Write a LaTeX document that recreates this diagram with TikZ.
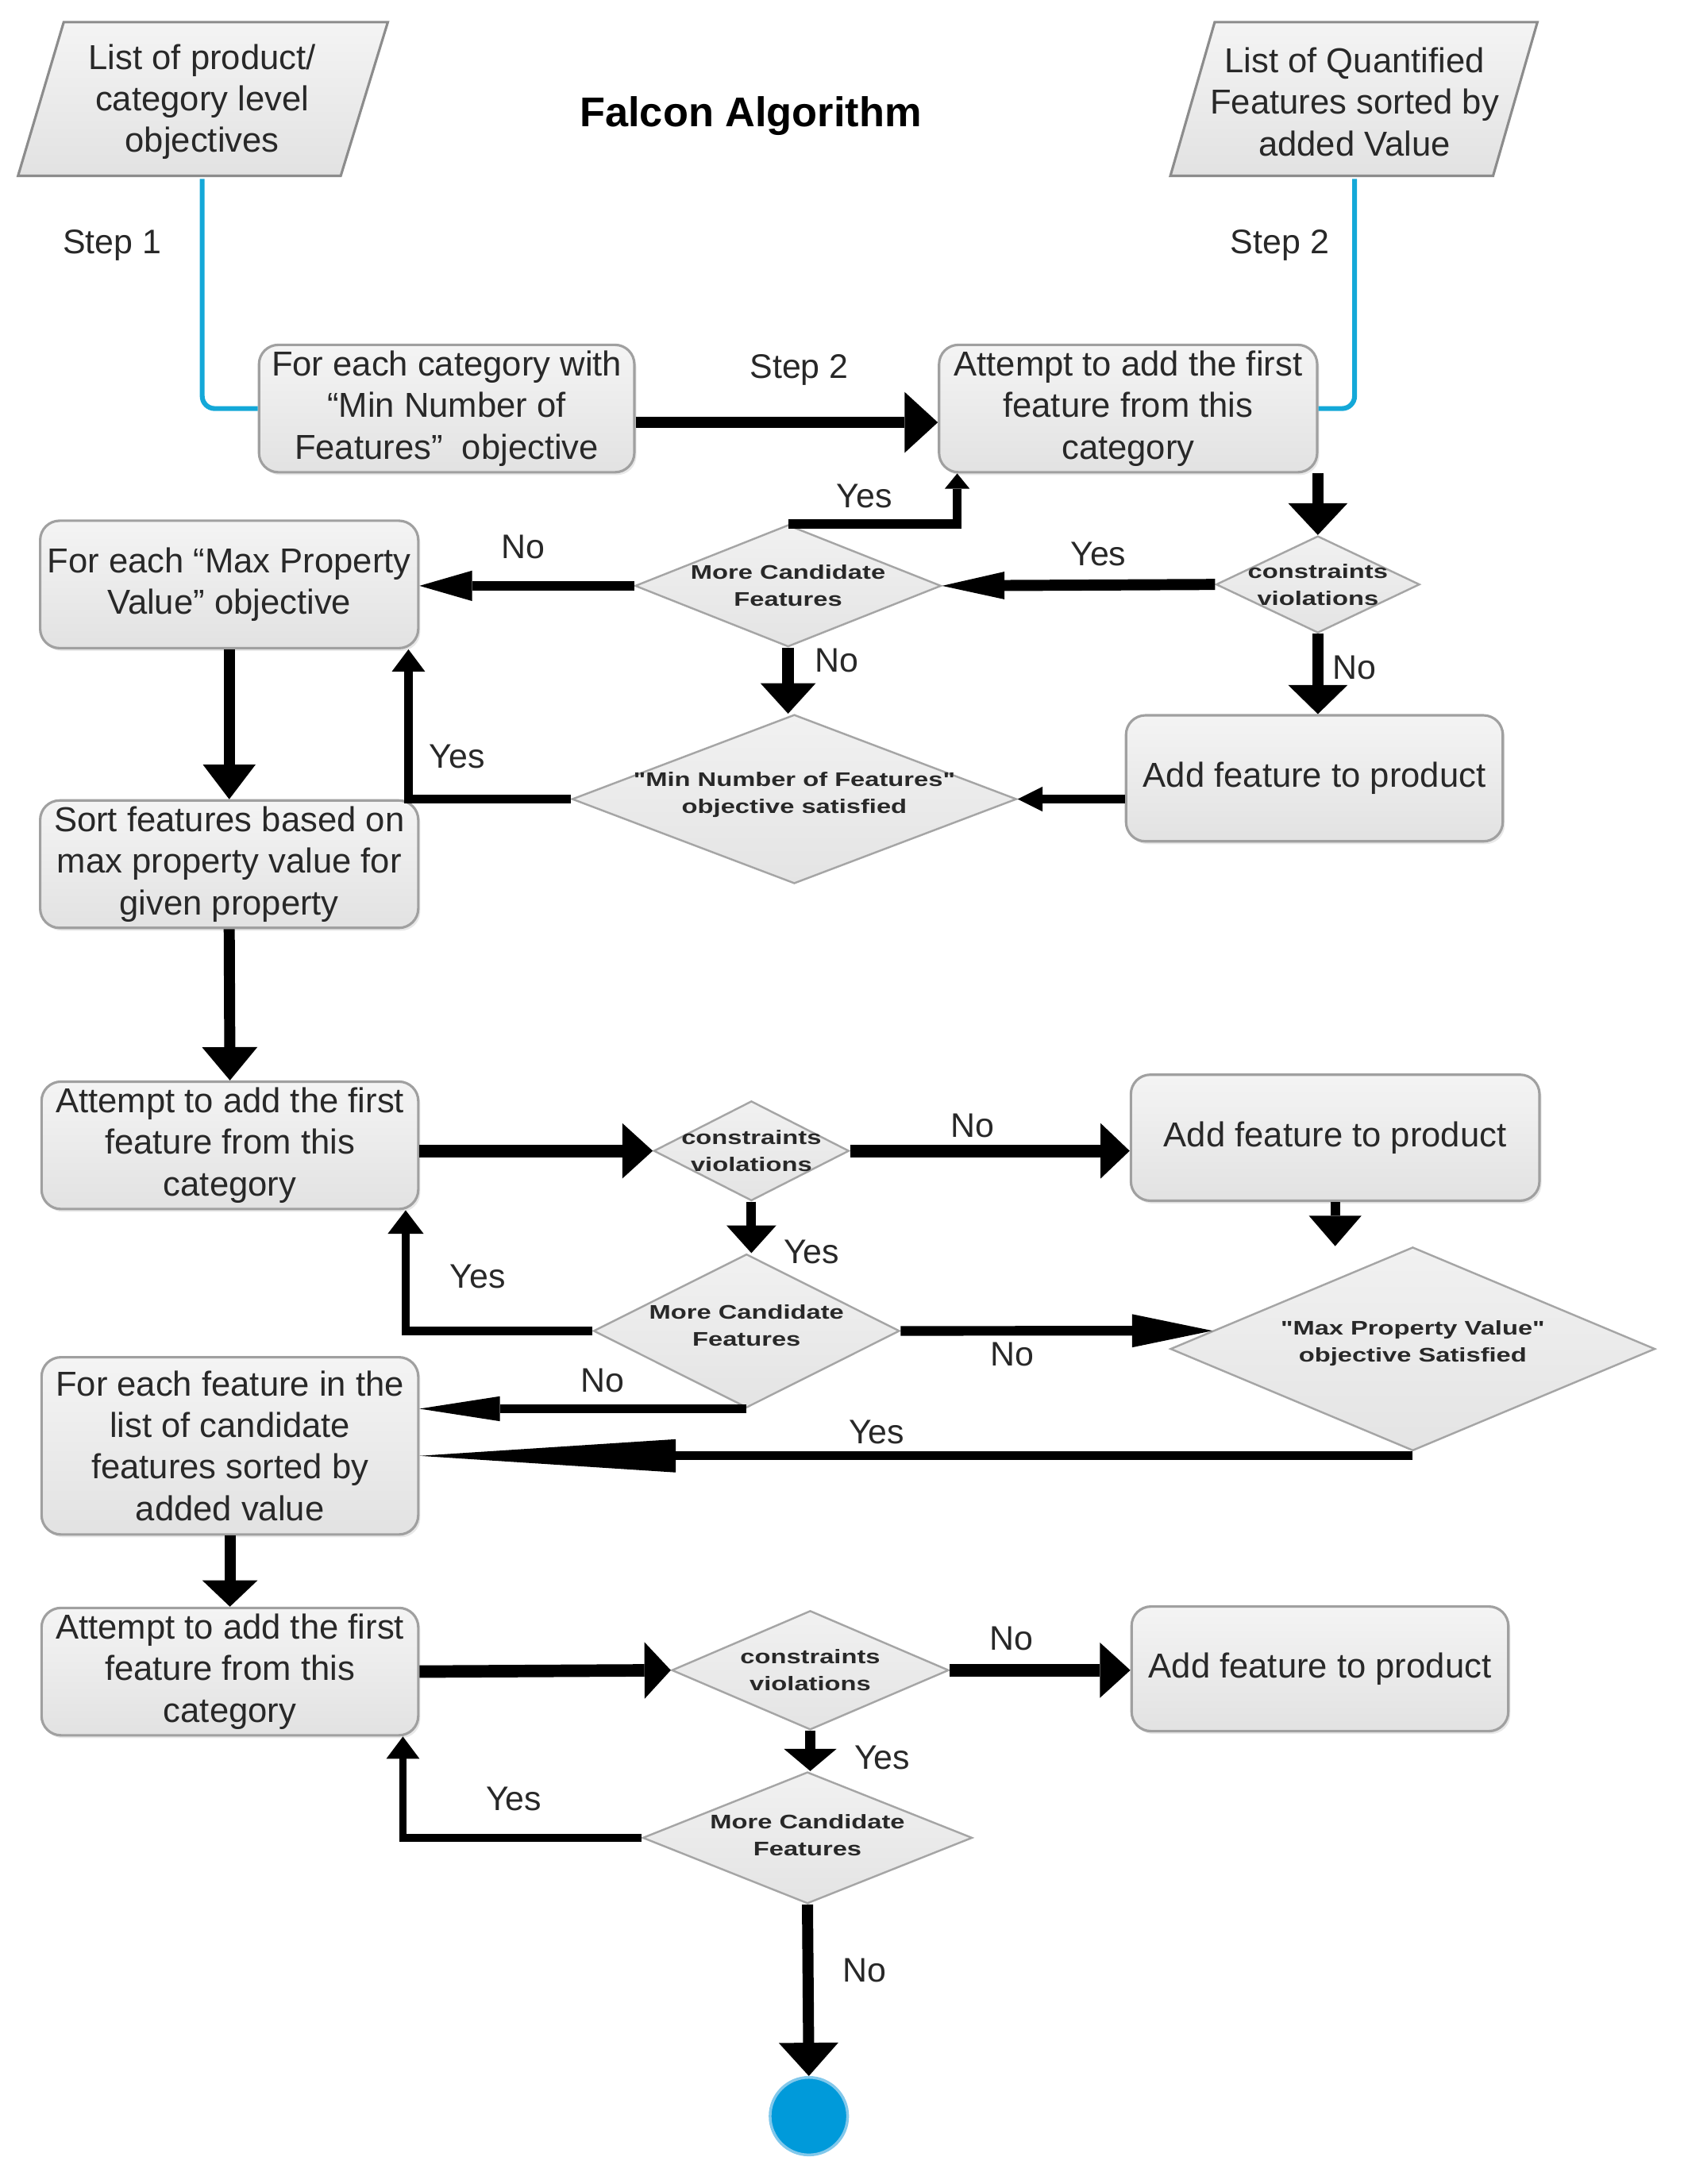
\documentclass[tikz,border=0pt]{standalone}
\usepackage{fontspec}
\setmainfont{Liberation Sans}
\newfontfamily\diafam[FakeStretch=1.32]{Liberation Sans}
\usetikzlibrary{arrows.meta,shapes.geometric,shadows,calc}
\definecolor{txt}{RGB}{40,40,40}
\definecolor{boxtop}{RGB}{244,244,244}
\definecolor{boxbot}{RGB}{226,226,226}
\definecolor{boxline}{RGB}{160,160,160}
\definecolor{diatop}{RGB}{241,241,241}
\definecolor{diabot}{RGB}{228,228,228}
\definecolor{dialine}{RGB}{165,165,165}
\definecolor{paraline}{RGB}{140,140,140}
\definecolor{cyanc}{RGB}{20,168,216}
\definecolor{endblue}{RGB}{0,154,218}
\definecolor{endedge}{RGB}{130,200,235}
\begin{document}
\begin{tikzpicture}[x=1pt,y=-1pt,
  box/.style={rectangle, rounded corners=14pt, draw=boxline, line width=1.8pt, top color=boxtop, bottom color=boxbot, align=center, text=txt, font=\fontsize{25}{30}\selectfont, inner sep=0pt, drop shadow={shadow xshift=1.5pt, shadow yshift=-2pt, opacity=0.18}},
  dia/.style={diamond, draw=dialine, line width=1.4pt, top color=diatop, bottom color=diabot, inner sep=0pt},
  diatext/.style={align=center, text=txt, font=\diafam\bfseries\fontsize{14.2}{19.5}\selectfont, inner sep=0pt},
  lbl/.style={text=txt, font=\fontsize{24.6}{29}\selectfont, inner sep=0pt},
  para/.style={draw=paraline, line width=1.8pt, top color=boxtop, bottom color=boxbot},
  ptext/.style={align=center, text=txt, font=\fontsize{25}{30}\selectfont, inner sep=0pt},
  cy/.style={draw=cyanc, line width=3.5pt, rounded corners=9pt},
  arr/.style n args={3}{draw=black, line width=#1pt, -{Triangle[length=#2pt, width=#3pt, line width=0pt]}},
]
\useasboundingbox (0,0) rectangle (1215.3,1577);
\fill[white] (0,0) rectangle (1215.3,1577);

% input parallelograms
\draw[para] (46,16) -- (280,16) -- (246,127) -- (13,127) -- cycle;
\draw[para] (877,16) -- (1110,16) -- (1078,127) -- (845,127) -- cycle;
\node[ptext, minimum height=111pt] (p1) at (146,73.5) {List of product/\\category level\\objectives};
\node[ptext, minimum height=111pt] (p2) at (978,73.5) {List of Quantified\\Features sorted by\\added Value};

\node[font=\bfseries\fontsize{30}{35}\selectfont, inner sep=0pt] (title) at (542,84) {Falcon Algorithm};
\node[lbl] (s1) at (81,177) {Step 1};
\node[lbl] (s2a) at (577,267) {Step 2};
\node[lbl] (s2b) at (924,177) {Step 2};

% boxes
\node[box, minimum width=271pt, minimum height=92pt] (b1) at (322.5,295) {For each category with\\“Min Number of\\Features”~ objective};
\node[box, minimum width=273pt, minimum height=92pt] (b2) at (814.5,295) {Attempt to add the first\\feature from this\\category};
\node[box, minimum width=273pt, minimum height=92pt] (b3) at (165.5,422) {For each “Max Property\\Value” objective};
\node[box, minimum width=272pt, minimum height=91pt] (b4) at (949,562) {Add feature to product};
\node[box, minimum width=273pt, minimum height=92pt] (b5) at (165.5,624) {Sort features based on\\max property value for\\given property};
\node[box, minimum width=272pt, minimum height=92pt] (b6) at (166,827) {Attempt to add the first\\feature from this\\category};
\node[box, minimum width=295pt, minimum height=91pt] (b7) at (964,821.5) {Add feature to product};
\node[box, minimum width=272pt, minimum height=128pt] (b8) at (166,1044) {For each feature in the\\list of candidate\\features sorted by\\added value};
\node[box, minimum width=272pt, minimum height=92pt] (b9) at (166,1207) {Attempt to add the first\\feature from this\\category};
\node[box, minimum width=272pt, minimum height=90pt] (b10) at (953,1205) {Add feature to product};

% diamonds
\node[dia, minimum width=147pt, minimum height=70pt] (d1) at (951.5,422) {};
\node[diatext] (t1) at (d1) {constraints\\violations};
\node[dia, minimum width=221pt, minimum height=88pt] (d2) at (569,423) {};
\node[diatext] (t2) at (d2) {More Candidate\\Features};
\node[dia, minimum width=321pt, minimum height=122pt] (d3) at (573.5,577) {};
\node[diatext] (t3) at ([yshift=3pt]d3.center) {"Min Number of Features"\\objective satisfied};
\node[dia, minimum width=141pt, minimum height=72pt] (d4) at (542.5,831) {};
\node[diatext] (t4) at (d4) {constraints\\violations};
\node[dia, minimum width=221pt, minimum height=111pt] (d5) at (539,961) {};
\node[diatext] (t5) at ([yshift=4pt]d5.center) {More Candidate\\Features};
\node[dia, minimum width=350pt, minimum height=147pt] (d6) at (1020,974) {};
\node[diatext] (t6) at ([yshift=4pt]d6.center) {"Max Property Value"\\objective Satisfied};
\node[dia, minimum width=200pt, minimum height=86pt] (d7) at (585,1206) {};
\node[diatext] (t7) at (d7) {constraints\\violations};
\node[dia, minimum width=238pt, minimum height=95pt] (d8) at (583,1327) {};
\node[diatext] (t8) at ([yshift=2pt]d8.center) {More Candidate\\Features};

\node[circle, fill=endblue, draw=endedge, line width=2pt, minimum size=56pt, inner sep=0pt] (end) at (584,1528) {};

% cyan connectors
\draw[cy] (p1.south) |- (b1.west);
\draw[cy] (p2.south) |- (b2.east);

% arrows
\draw[arr={8}{24}{44}] ([yshift=-10pt]b1.east) -- ([yshift=-10pt]b2.west);
\draw[arr={8}{23}{43}] (d1.north |- b2.south) -- (d1.north);
\draw[arr={8}{45}{20}] (d1.west) -- (d2.east);
\draw[arr={7}{38}{22}] (d2.west) -- (d2.west -| b3.east);
\draw[arr={6.5}{11}{18}] (d2.north) -| ([xshift=14pt]b2.south west);
\draw[arr={8.5}{22}{40}] (d2.south) -- (d2.south |- d3.north);
\draw[arr={8}{21}{43}] (d1.south) -- (d1.south |- b4.north);
\draw[arr={6}{18}{18}] (b4.west |- d3.east) -- (d3.east);
\draw[arr={6}{16}{24}] (d3.west) -| ([xshift=-8pt]b3.south east);
\draw[arr={8}{25}{38}] (b3.south) -- (b5.north);
\draw[arr={8}{24}{40}] (b5.south) -- (b6.north);
\draw[arr={9}{22}{40}] (b6.east |- d4.west) -- (d4.west);
\draw[arr={9}{21}{40}] (d4.east) -- (d4.east -| b7.west);
\draw[arr={7}{20}{36}] (d4.south) -- (d4.south |- d5.north);
\draw[arr={6}{17}{26}] (d5.west) -| ([xshift=-10pt]b6.south east);
\draw[arr={7}{58}{24}] (d5.east) -- ($(d6.west)!0.177!(d6.north)$);
\draw[arr={7}{22}{38}] (b7.south) -- (b7.south |- d6.north);
\draw[arr={6}{58}{18}] (d5.south) -- (d5.south -| b8.east);
\draw[arr={6.5}{185}{24}] ([yshift=-3pt]d6.south) -- ([yshift=-3pt]d6.south -| b8.east);
\draw[arr={8}{19}{40}] (b8.south) -- (b9.north);
\draw[arr={9}{19}{41}] (b9.east) -- (d7.west);
\draw[arr={9}{22}{40}] (d7.east) -- (d7.east -| b10.west);
\draw[arr={7}{16}{38}] (d7.south) -- (d7.south |- d8.north);
\draw[arr={5.5}{16}{24}] (d8.west) -| ([xshift=-12pt]b9.south east);
\draw[arr={8}{24}{43}] (d8.south) -- (end.north);

% labels
\node[lbl] (l1) at (624,358) {Yes};
\node[lbl] (l2) at (378,395) {No};
\node[lbl] (l3) at (793,400) {Yes};
\node[lbl] (l4) at (604,477) {No};
\node[lbl] (l5) at (978,482) {No};
\node[lbl] (l6) at (330,546) {Yes};
\node[lbl] (l7) at (702,813) {No};
\node[lbl] (l8) at (586,904) {Yes};
\node[lbl] (l9) at (345,922) {Yes};
\node[lbl] (l10) at (731,978) {No};
\node[lbl] (l11) at (435,997) {No};
\node[lbl] (l12) at (633,1034) {Yes};
\node[lbl] (l13) at (730,1183) {No};
\node[lbl] (l14) at (637,1269) {Yes};
\node[lbl] (l15) at (371,1299) {Yes};
\node[lbl] (l16) at (624,1423) {No};
\end{tikzpicture}
\end{document}
